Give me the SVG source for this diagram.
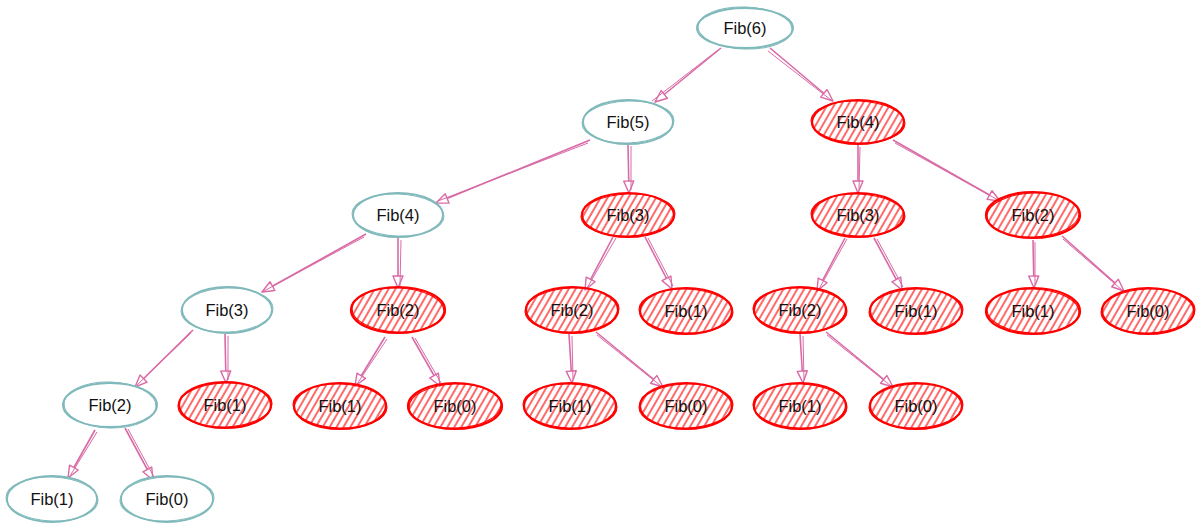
<svg xmlns="http://www.w3.org/2000/svg" width="1200" height="530" viewBox="0 0 1200 530">
<defs>
<pattern id="hatch" width="6" height="10" patternUnits="userSpaceOnUse" patternTransform="rotate(30)">
<line x1="1" y1="0" x2="1" y2="10" stroke="#ff1a1a" stroke-width="1.3"/>
</pattern>
<marker id="arr" viewBox="0 0 14 12" refX="13" refY="6" markerWidth="14" markerHeight="12" markerUnits="userSpaceOnUse" orient="auto">
<path d="M1,1 L13,6 L1,11 Z" fill="#fff" stroke="#d96aa6" stroke-width="1.4" stroke-linejoin="round"/>
</marker>
</defs>
<style>
.bg{fill:#ffffff}
.t{fill:#fff;stroke:#80b9bb;stroke-width:1.9}
.t2{fill:none;stroke:#80b9bb;stroke-width:1}
.r{fill:url(#hatch);stroke:#ff0000;stroke-width:2.2}
.r2{fill:none;stroke:#ff0000;stroke-width:1.1}
.e{fill:none;stroke:#d96aa6;stroke-width:1.6;marker-end:url(#arr)}
.e2{fill:none;stroke:#d96aa6;stroke-width:1}
text{font-family:"Liberation Sans","DejaVu Sans",sans-serif;font-size:16.5px;fill:#111;text-anchor:middle;dominant-baseline:central}
</style>
<rect class="bg" width="1200" height="530"/>
<g id="connectors">
<path class="e" d="M721,48 L655,102"/><path class="e2" d="M718,50 L652,101"/>
<path class="e" d="M770,48 L833,101"/><path class="e2" d="M768,51 L831,100"/>
<path class="e" d="M590,140 L436,203"/><path class="e2" d="M588,143 L438,201"/>
<path class="e" d="M628,145 L629,193"/><path class="e2" d="M631,146 L631,190"/>
<path class="e" d="M858,145 L858,193"/><path class="e2" d="M860,147 L859,190"/>
<path class="e" d="M893,140 L1000,201"/><path class="e2" d="M895,143 L998,200"/>
<path class="e" d="M366,234 L262,292"/><path class="e2" d="M364,237 L264,291"/>
<path class="e" d="M398,238 L398,288"/><path class="e2" d="M401,240 L400,286"/>
<path class="e" d="M613,237 L585,290"/><path class="e2" d="M616,238 L587,288"/>
<path class="e" d="M645,237 L672,289"/><path class="e2" d="M648,238 L673,286"/>
<path class="e" d="M845,238 L817,291"/><path class="e2" d="M847,239 L819,289"/>
<path class="e" d="M874,238 L902,290"/><path class="e2" d="M877,239 L903,287"/>
<path class="e" d="M1033,240 L1034,288"/><path class="e2" d="M1035,242 L1035,285"/>
<path class="e" d="M1062,236 L1124,291"/><path class="e2" d="M1063,239 L1122,290"/>
<path class="e" d="M193,330 L135,387"/><path class="e2" d="M191,333 L137,385"/>
<path class="e" d="M225,334 L226,383"/><path class="e2" d="M228,336 L228,380"/>
<path class="e" d="M385,337 L355,386"/><path class="e2" d="M387,339 L357,384"/>
<path class="e" d="M412,337 L440,386"/><path class="e2" d="M415,338 L441,383"/>
<path class="e" d="M569,334 L572,383"/><path class="e2" d="M572,336 L573,380"/>
<path class="e" d="M596,332 L663,387"/><path class="e2" d="M597,335 L661,386"/>
<path class="e" d="M800,334 L803,383"/><path class="e2" d="M803,336 L804,380"/>
<path class="e" d="M826,332 L893,387"/><path class="e2" d="M827,335 L891,386"/>
<path class="e" d="M95,430 L68,478"/><path class="e2" d="M97,432 L70,476"/>
<path class="e" d="M125,428 L153,480"/><path class="e2" d="M128,429 L154,477"/>
</g>
<g id="fib6_root"><ellipse class="t" cx="745" cy="28" rx="48" ry="20"/><ellipse class="t2" cx="745" cy="28" rx="47" ry="21" transform="rotate(2 745 28)"/><text x="745" y="28">Fib(6)</text></g>
<g id="fib5_a"><ellipse class="t" cx="628" cy="122" rx="45" ry="22"/><ellipse class="t2" cx="628" cy="122" rx="46" ry="21" transform="rotate(-2 628 122)"/><text x="628" y="122">Fib(5)</text></g>
<g id="fib4_b"><ellipse class="r" cx="858" cy="122" rx="46" ry="22"/><ellipse class="r2" cx="858" cy="122" rx="47" ry="21" transform="rotate(2 858 122)"/><text x="858" y="122">Fib(4)</text></g>
<g id="fib4_a"><ellipse class="t" cx="398" cy="215" rx="45" ry="22"/><ellipse class="t2" cx="398" cy="215" rx="46" ry="21" transform="rotate(2 398 215)"/><text x="398" y="215">Fib(4)</text></g>
<g id="fib3_b"><ellipse class="r" cx="628" cy="215" rx="46" ry="22"/><ellipse class="r2" cx="628" cy="215" rx="47" ry="21" transform="rotate(-2 628 215)"/><text x="628" y="215">Fib(3)</text></g>
<g id="fib3_c"><ellipse class="r" cx="858" cy="215" rx="46" ry="22"/><ellipse class="r2" cx="858" cy="215" rx="47" ry="21" transform="rotate(2 858 215)"/><text x="858" y="215">Fib(3)</text></g>
<g id="fib2_e"><ellipse class="r" cx="1033" cy="215" rx="47" ry="23"/><ellipse class="r2" cx="1033" cy="215" rx="46" ry="22" transform="rotate(-2 1033 215)"/><text x="1033" y="215">Fib(2)</text></g>
<g id="fib3_a"><ellipse class="t" cx="227" cy="310" rx="45" ry="23"/><ellipse class="t2" cx="227" cy="310" rx="46" ry="22" transform="rotate(-2 227 310)"/><text x="227" y="310">Fib(3)</text></g>
<g id="fib2_b"><ellipse class="r" cx="398" cy="310" rx="47" ry="23"/><ellipse class="r2" cx="398" cy="310" rx="46" ry="22" transform="rotate(2 398 310)"/><text x="398" y="310">Fib(2)</text></g>
<g id="fib2_c"><ellipse class="r" cx="572" cy="310" rx="46" ry="23"/><ellipse class="r2" cx="572" cy="310" rx="47" ry="22" transform="rotate(-2 572 310)"/><text x="572" y="310">Fib(2)</text></g>
<g id="fib1_d"><ellipse class="r" cx="686" cy="311" rx="46" ry="23"/><ellipse class="r2" cx="686" cy="311" rx="47" ry="22" transform="rotate(2 686 311)"/><text x="686" y="311">Fib(1)</text></g>
<g id="fib2_d"><ellipse class="r" cx="800" cy="310" rx="46" ry="23"/><ellipse class="r2" cx="800" cy="310" rx="47" ry="22" transform="rotate(2 800 310)"/><text x="800" y="310">Fib(2)</text></g>
<g id="fib1_f"><ellipse class="r" cx="916" cy="311" rx="46" ry="23"/><ellipse class="r2" cx="916" cy="311" rx="47" ry="22" transform="rotate(-2 916 311)"/><text x="916" y="311">Fib(1)</text></g>
<g id="fib1_h"><ellipse class="r" cx="1033" cy="311" rx="47" ry="23"/><ellipse class="r2" cx="1033" cy="311" rx="46" ry="22" transform="rotate(2 1033 311)"/><text x="1033" y="311">Fib(1)</text></g>
<g id="fib0_e"><ellipse class="r" cx="1148" cy="311" rx="46" ry="23"/><ellipse class="r2" cx="1148" cy="311" rx="47" ry="22" transform="rotate(-2 1148 311)"/><text x="1148" y="311">Fib(0)</text></g>
<g id="fib2_a"><ellipse class="t" cx="110" cy="405" rx="47" ry="22"/><ellipse class="t2" cx="110" cy="405" rx="46" ry="23" transform="rotate(2 110 405)"/><text x="110" y="405">Fib(2)</text></g>
<g id="fib1_b"><ellipse class="r" cx="225" cy="405" rx="46" ry="23"/><ellipse class="r2" cx="225" cy="405" rx="47" ry="22" transform="rotate(-2 225 405)"/><text x="225" y="405">Fib(1)</text></g>
<g id="fib1_c"><ellipse class="r" cx="340" cy="406" rx="46" ry="23"/><ellipse class="r2" cx="340" cy="406" rx="47" ry="22" transform="rotate(2 340 406)"/><text x="340" y="406">Fib(1)</text></g>
<g id="fib0_b"><ellipse class="r" cx="455" cy="406" rx="47" ry="23"/><ellipse class="r2" cx="455" cy="406" rx="46" ry="22" transform="rotate(-2 455 406)"/><text x="455" y="406">Fib(0)</text></g>
<g id="fib1_e"><ellipse class="r" cx="570" cy="406" rx="46" ry="23"/><ellipse class="r2" cx="570" cy="406" rx="47" ry="22" transform="rotate(2 570 406)"/><text x="570" y="406">Fib(1)</text></g>
<g id="fib0_c"><ellipse class="r" cx="686" cy="406" rx="46" ry="23"/><ellipse class="r2" cx="686" cy="406" rx="47" ry="22" transform="rotate(-2 686 406)"/><text x="686" y="406">Fib(0)</text></g>
<g id="fib1_g"><ellipse class="r" cx="800" cy="406" rx="46" ry="23"/><ellipse class="r2" cx="800" cy="406" rx="47" ry="22" transform="rotate(2 800 406)"/><text x="800" y="406">Fib(1)</text></g>
<g id="fib0_d"><ellipse class="r" cx="916" cy="406" rx="46" ry="23"/><ellipse class="r2" cx="916" cy="406" rx="47" ry="22" transform="rotate(-2 916 406)"/><text x="916" y="406">Fib(0)</text></g>
<g id="fib1_a"><ellipse class="t" cx="52" cy="499" rx="45" ry="23"/><ellipse class="t2" cx="52" cy="499" rx="46" ry="22" transform="rotate(2 52 499)"/><text x="52" y="499">Fib(1)</text></g>
<g id="fib0_a"><ellipse class="t" cx="167" cy="499" rx="46" ry="23"/><ellipse class="t2" cx="167" cy="499" rx="47" ry="22" transform="rotate(-2 167 499)"/><text x="167" y="499">Fib(0)</text></g>
</svg>
